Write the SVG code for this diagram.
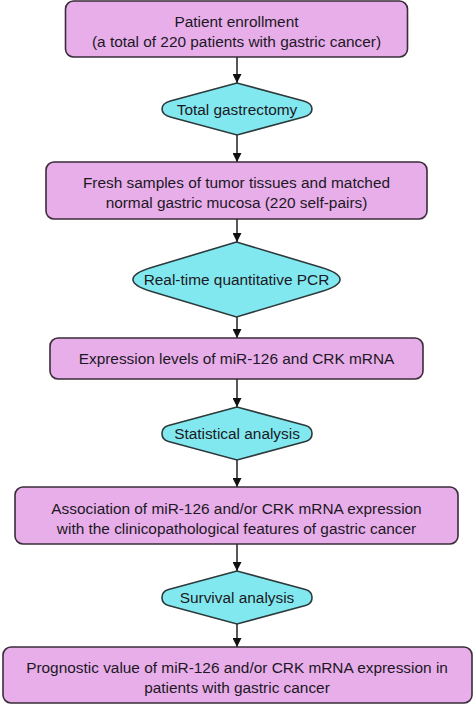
<svg xmlns="http://www.w3.org/2000/svg" width="474" height="704" viewBox="0 0 474 704">
<style>
.box{fill:#e8aeea;stroke:#3a2c3a;stroke-width:1.6}
.dia{fill:#82e8ef;stroke:#2c3a3c;stroke-width:1.6}
text{font-family:"Liberation Sans",Arial,sans-serif;font-size:15.4px;fill:#1c1824;text-anchor:middle}
.con line{stroke:#111;stroke-width:1.4;marker-end:url(#ah)}
</style>
<defs>
<marker id="ah" markerUnits="userSpaceOnUse" markerWidth="9" markerHeight="9" refX="9" refY="4.5" orient="auto" viewBox="0 0 9 9">
<path d="M0,0 L9,4.5 L0,9 Z" fill="#111"/>
</marker>
</defs>
<rect width="474" height="704" fill="#ffffff"/>
<g class="con">
<line x1="237" y1="57" x2="237" y2="83"/>
<line x1="237" y1="135" x2="237" y2="162"/>
<line x1="237" y1="219" x2="237" y2="242"/>
<line x1="237" y1="317" x2="237" y2="338"/>
<line x1="237" y1="379" x2="237" y2="407"/>
<line x1="237" y1="460" x2="237" y2="487"/>
<line x1="237" y1="544" x2="237" y2="571"/>
<line x1="237" y1="624" x2="237" y2="647"/>
</g>
<g id="n1">
<rect class="box" x="65.5" y="1" width="342" height="56" rx="8"/>
<text x="236.5" y="27">Patient enrollment</text>
<text x="236.5" y="47">(a total of 220 patients with gastric cancer)</text>
</g>
<g id="n2">
<path class="dia" d="M237,83 L170.3,101 C159.3,104 159.3,114 170.3,117 L237,135 L303.7,117 C314.7,114 314.7,104 303.7,101 Z"/>
<text x="237" y="114.5">Total gastrectomy</text>
</g>
<g id="n3">
<rect class="box" x="46" y="162" width="381" height="57" rx="8"/>
<text x="236.5" y="188">Fresh samples of tumor tissues and matched</text>
<text x="236.5" y="207.5">normal gastric mucosa (220 self-pairs)</text>
</g>
<g id="n4">
<path class="dia" d="M236.5,242 L151.5,267.5 C126.8,274.9 126.8,284.1 151.5,291.5 L236.5,317 L321.5,291.5 C346.2,284.1 346.2,274.9 321.5,267.5 Z"/>
<text x="236.5" y="285">Real-time quantitative PCR</text>
</g>
<g id="n5">
<rect class="box" x="50" y="338" width="373" height="41" rx="8"/>
<text x="236.5" y="363.5">Expression levels of miR-126 and CRK mRNA</text>
</g>
<g id="n6">
<path class="dia" d="M237,407 L168.5,425.5 C159.8,427.9 159.8,439.1 168.5,441.5 L237,460 L305.5,441.5 C314.2,439.1 314.2,427.9 305.5,425.5 Z"/>
<text x="237" y="438.5">Statistical analysis</text>
</g>
<g id="n7">
<rect class="box" x="15" y="487" width="443" height="57" rx="8"/>
<text x="236.5" y="514">Association of miR-126 and/or CRK mRNA expression</text>
<text x="236.5" y="533.5">with the clinicopathological features of gastric cancer</text>
</g>
<g id="n8">
<path class="dia" d="M237,571 L168.5,589.5 C159.8,591.9 159.8,603.1 168.5,605.5 L237,624 L305.5,605.5 C314.2,603.1 314.2,591.9 305.5,589.5 Z"/>
<text x="237" y="603">Survival analysis</text>
</g>
<g id="n9">
<rect class="box" x="3" y="647" width="469" height="56" rx="8"/>
<text x="237" y="673">Prognostic value of miR-126 and/or CRK mRNA expression in</text>
<text x="237" y="692.5">patients with gastric cancer</text>
</g>
</svg>
